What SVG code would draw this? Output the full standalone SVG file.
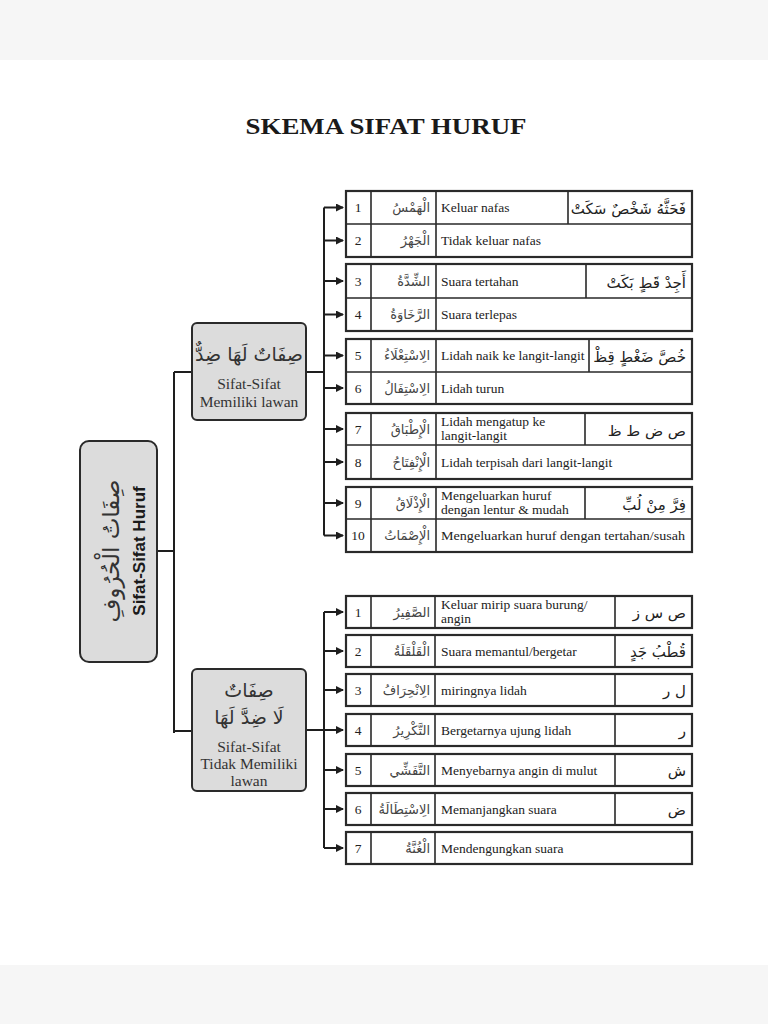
<svg xmlns="http://www.w3.org/2000/svg" width="768" height="1024" viewBox="0 0 768 1024">
<defs>
<marker id="ah" markerWidth="8" markerHeight="8" refX="7" refY="4" orient="auto" markerUnits="userSpaceOnUse">
<path d="M0,0 L8,4 L0,8 z" fill="#1e1e1e"/>
</marker>
<style>
.bg{fill:#f6f6f6}
.page{fill:#ffffff}
.node{fill:#dcdcdc;stroke:#2a2a2a;stroke-width:2}
.box{fill:#ffffff;stroke:#2a2a2a;stroke-width:2.2}
.gray{fill:#d8d8d8;stroke:none}
.div{stroke:#2a2a2a;stroke-width:1.6;fill:none}
.conn{stroke:#1e1e1e;stroke-width:2;fill:none}
.arr{stroke:#1e1e1e;stroke-width:2;fill:none;marker-end:url(#ah)}
.num{font-family:"Liberation Serif",serif;font-size:13.5px;fill:#222;text-anchor:middle}
.desc{font-family:"Liberation Serif",serif;font-size:13.5px;fill:#222}
.ar{font-family:"DejaVu Sans",sans-serif;font-size:13px;fill:#444;text-anchor:end}
.arr2{font-family:"DejaVu Sans",sans-serif;font-size:15px;fill:#222;text-anchor:end}
.lab{font-family:"Liberation Serif",serif;font-size:15.5px;fill:#333;text-anchor:middle}
.arl{font-family:"DejaVu Sans",sans-serif;font-size:19px;fill:#333;text-anchor:middle}
</style>
</defs>
<rect class="bg" x="0" y="0" width="768" height="1024"/>
<rect class="page" x="0" y="60" width="768" height="905"/>

<text x="386" y="134" font-family="Liberation Serif, serif" font-weight="bold" font-size="23" fill="#1a1a1a" text-anchor="middle" textLength="281" lengthAdjust="spacingAndGlyphs">SKEMA SIFAT HURUF</text>

<g id="connectors">
<path class="conn" d="M157,551 H174 M174,372 V733 M174,372 H192 M174,731 H192"/>
<path class="conn" d="M306,372 H324 M324,207.5 V535.5"/>
<path class="arr" d="M324,207.5 H343"/>
<path class="arr" d="M324,240.5 H343"/>
<path class="arr" d="M324,281 H343"/>
<path class="arr" d="M324,314.5 H343"/>
<path class="arr" d="M324,355.5 H343"/>
<path class="arr" d="M324,388 H343"/>
<path class="arr" d="M324,429 H343"/>
<path class="arr" d="M324,462 H343"/>
<path class="arr" d="M324,503 H343"/>
<path class="arr" d="M324,535.5 H343"/>
<path class="conn" d="M306,730 H324 M324,612 V848"/>
<path class="arr" d="M324,612 H343"/>
<path class="arr" d="M324,651 H343"/>
<path class="arr" d="M324,690 H343"/>
<path class="arr" d="M324,730 H343"/>
<path class="arr" d="M324,770 H343"/>
<path class="arr" d="M324,809 H343"/>
<path class="arr" d="M324,848 H343"/>
</g>

<g id="node-main">
<rect class="node" x="80" y="441" width="77" height="221" rx="9"/>
<g transform="translate(118,551) rotate(-90)">
<text x="0" y="1" font-family="DejaVu Sans, sans-serif" font-size="23" fill="#333" text-anchor="middle">صِفَاتُ الْحُرُوفِ</text>
<text x="0" y="27" font-family="Liberation Sans, sans-serif" font-weight="bold" font-size="17" fill="#1a1a1a" text-anchor="middle">Sifat-Sifat Huruf</text>
</g>
</g>

<g id="node-lawan">
<rect class="node" x="192" y="323" width="114" height="97" rx="5"/>
<text class="arl" x="249" y="361">صِفَاتٌ لَهَا ضِدٌّ</text>
<text class="lab" x="249" y="389">Sifat-Sifat</text>
<text class="lab" x="249" y="407">Memiliki lawan</text>
</g>

<g id="node-tidak">
<rect class="node" x="192" y="669" width="114" height="122" rx="5"/>
<text class="arl" x="249" y="697">صِفَاتٌ</text>
<text class="arl" x="249" y="724">لَا ضِدَّ لَهَا</text>
<text class="lab" x="249" y="752">Sifat-Sifat</text>
<text class="lab" x="249" y="769">Tidak Memiliki</text>
<text class="lab" x="249" y="786">lawan</text>
</g>

<g id="group-1-2">
<rect class="gray" x="371" y="191" width="65" height="66"/>
<rect class="box" x="346" y="191" width="346" height="66"/>
<path class="div" d="M346,224 H692 M371,191 V257 M436,191 V257 M568,191 V224"/>
<text class="num" x="358" y="212">1</text>
<text class="ar" x="430" y="212">الْهَمْسُ</text>
<text class="desc" x="441" y="212">Keluar nafas</text>
<text class="arr2" x="686" y="214">فَحَثَّهُ شَخْصٌ سَكَتْ</text>
<text class="num" x="358" y="245">2</text>
<text class="ar" x="430" y="245">الْجَهْرُ</text>
<text class="desc" x="441" y="245">Tidak keluar nafas</text>
</g>

<g id="group-3-4">
<rect class="gray" x="371" y="264" width="65" height="67"/>
<rect class="box" x="346" y="264" width="346" height="67"/>
<path class="div" d="M346,298 H692 M371,264 V331 M436,264 V331 M586,264 V298"/>
<text class="num" x="358" y="286">3</text>
<text class="ar" x="430" y="286">الشِّدَّةُ</text>
<text class="desc" x="441" y="286">Suara tertahan</text>
<text class="arr2" x="686" y="288">أَجِدْ قَطٍ بَكَتْ</text>
<text class="num" x="358" y="319">4</text>
<text class="ar" x="430" y="319">الرَّخَاوَةُ</text>
<text class="desc" x="441" y="319">Suara terlepas</text>
</g>

<g id="group-5-6">
<rect class="gray" x="371" y="339" width="65" height="65"/>
<rect class="box" x="346" y="339" width="346" height="65"/>
<path class="div" d="M346,372 H692 M371,339 V404 M436,339 V404 M589,339 V372"/>
<text class="num" x="358" y="360">5</text>
<text class="ar" x="430" y="360">الِاسْتِعْلَاءُ</text>
<text class="desc" x="441" y="360">Lidah naik ke langit-langit</text>
<text class="arr2" x="686" y="362">خُصَّ ضَغْطٍ قِظْ</text>
<text class="num" x="358" y="393">6</text>
<text class="ar" x="430" y="393">الِاسْتِفَالُ</text>
<text class="desc" x="441" y="393">Lidah turun</text>
</g>

<g id="group-7-8">
<rect class="gray" x="371" y="413" width="65" height="66"/>
<rect class="box" x="346" y="413" width="346" height="66"/>
<path class="div" d="M346,445 H692 M371,413 V479 M436,413 V479 M585,413 V445"/>
<text class="num" x="358" y="434">7</text>
<text class="ar" x="430" y="434">الْإِطْبَاقُ</text>
<text class="desc" x="441" y="426">Lidah mengatup ke</text>
<text class="desc" x="441" y="440">langit-langit</text>
<text class="arr2" x="686" y="436">ص ض ط ظ</text>
<text class="num" x="358" y="467">8</text>
<text class="ar" x="430" y="467">الْإِنْفِتَاحُ</text>
<text class="desc" x="441" y="467">Lidah terpisah dari langit-langit</text>
</g>

<g id="group-9-10">
<rect class="gray" x="371" y="487" width="65" height="65"/>
<rect class="box" x="346" y="487" width="346" height="65"/>
<path class="div" d="M346,519 H692 M371,487 V552 M436,487 V552 M585,487 V519"/>
<text class="num" x="358" y="508">9</text>
<text class="ar" x="430" y="508">الْإِذْلَاقُ</text>
<text class="desc" x="441" y="500">Mengeluarkan huruf</text>
<text class="desc" x="441" y="514">dengan lentur &amp;  mudah</text>
<text class="arr2" x="686" y="510">فِرَّ مِنْ لُبِّ</text>
<text class="num" x="358" y="540">10</text>
<text class="ar" x="430" y="540">الْإِصْمَاتُ</text>
<text class="desc" x="441" y="540" textLength="244" lengthAdjust="spacingAndGlyphs">Mengeluarkan huruf dengan tertahan/susah</text>
</g>

<g id="row-b1">
<rect class="gray" x="371" y="596" width="64" height="32"/>
<rect class="box" x="346" y="596" width="346" height="32"/>
<path class="div" d="M371,596 V628 M435,596 V628 M615,596 V628"/>
<text class="num" x="358" y="617">1</text>
<text class="ar" x="430" y="617">الصَّفِيرُ</text>
<text class="desc" x="441" y="609">Keluar mirip suara burung/</text>
<text class="desc" x="441" y="623">angin</text>
<text class="arr2" x="686" y="618">ص س ز</text>
</g>
<g id="row-b2">
<rect class="gray" x="371" y="635" width="64" height="32"/>
<rect class="box" x="346" y="635" width="346" height="32"/>
<path class="div" d="M371,635 V667 M435,635 V667 M615,635 V667"/>
<text class="num" x="358" y="656">2</text>
<text class="ar" x="430" y="656">الْقَلْقَلَةُ</text>
<text class="desc" x="441" y="656">Suara  memantul/bergetar</text>
<text class="arr2" x="686" y="657">قُطْبُ جَدٍ</text>
</g>
<g id="row-b3">
<rect class="gray" x="371" y="674" width="64" height="32"/>
<rect class="box" x="346" y="674" width="346" height="32"/>
<path class="div" d="M371,674 V706 M435,674 V706 M615,674 V706"/>
<text class="num" x="358" y="695">3</text>
<text class="ar" x="430" y="695">الِانْحِرَافُ</text>
<text class="desc" x="441" y="695">miringnya lidah</text>
<text class="arr2" x="686" y="696">ل ر</text>
</g>
<g id="row-b4">
<rect class="gray" x="371" y="714" width="64" height="32"/>
<rect class="box" x="346" y="714" width="346" height="32"/>
<path class="div" d="M371,714 V746 M435,714 V746 M615,714 V746"/>
<text class="num" x="358" y="735">4</text>
<text class="ar" x="430" y="735">التَّكْرِيرُ</text>
<text class="desc" x="441" y="735">Bergetarnya ujung lidah</text>
<text class="arr2" x="686" y="736">ر</text>
</g>
<g id="row-b5">
<rect class="gray" x="371" y="754" width="64" height="32"/>
<rect class="box" x="346" y="754" width="346" height="32"/>
<path class="div" d="M371,754 V786 M435,754 V786 M615,754 V786"/>
<text class="num" x="358" y="775">5</text>
<text class="ar" x="430" y="775">التَّفَشِّي</text>
<text class="desc" x="441" y="775">Menyebarnya angin di mulut</text>
<text class="arr2" x="686" y="776">ش</text>
</g>
<g id="row-b6">
<rect class="gray" x="371" y="793" width="64" height="32"/>
<rect class="box" x="346" y="793" width="346" height="32"/>
<path class="div" d="M371,793 V825 M435,793 V825 M615,793 V825"/>
<text class="num" x="358" y="814">6</text>
<text class="ar" x="430" y="814">الِاسْتِطَالَةُ</text>
<text class="desc" x="441" y="814">Memanjangkan suara</text>
<text class="arr2" x="686" y="815">ض</text>
</g>
<g id="row-b7">
<rect class="gray" x="371" y="832" width="64" height="32"/>
<rect class="box" x="346" y="832" width="346" height="32"/>
<path class="div" d="M371,832 V864 M435,832 V864"/>
<text class="num" x="358" y="853">7</text>
<text class="ar" x="430" y="853">الْغُنَّةُ</text>
<text class="desc" x="441" y="853">Mendengungkan suara</text>
</g>
</svg>
